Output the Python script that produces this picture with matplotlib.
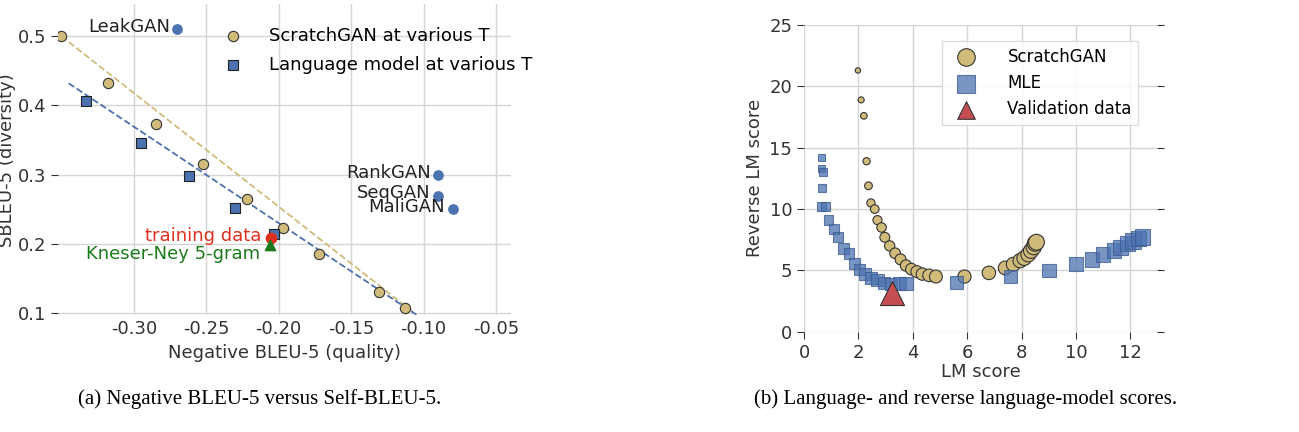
import numpy as np
import matplotlib
matplotlib.use("Agg")
import matplotlib.pyplot as plt

sg_x = [-0.35, -0.318, -0.285, -0.252, -0.222, -0.197, -0.172, -0.131, -0.113]
sg_y = [0.50, 0.432, 0.373, 0.315, 0.265, 0.223, 0.186, 0.130, 0.108]
lm_x = [-0.333, -0.295, -0.262, -0.230, -0.203]
lm_y = [0.407, 0.346, 0.298, 0.252, 0.214]
sg_fit_x = [-0.35, -0.105]
sg_fit_y = [0.50, 0.098]
lm_fit_x = [-0.345, -0.105]
lm_fit_y = [0.432, 0.098]
others = {"LeakGAN": (-0.27, 0.51), "RankGAN": (-0.09, 0.30),
          "SeqGAN": (-0.09, 0.27), "MaliGAN": (-0.08, 0.25)}
train_pt = (-0.205, 0.208)
kn_pt = (-0.206, 0.198)

s_x = [1.98, 2.1, 2.2, 2.3, 2.37, 2.46, 2.6, 2.7, 2.85, 2.97, 3.15, 3.35, 3.55, 3.75, 3.95,
       4.15, 4.35, 4.6, 4.85, 5.9, 6.8, 7.4, 7.7, 7.95, 8.1, 8.25, 8.35, 8.45, 8.5, 8.55]
s_y = [21.3, 18.9, 17.6, 13.9, 11.9, 10.5, 10.0, 9.1, 8.5, 7.7, 7.0, 6.4, 5.9, 5.4, 5.1,
       4.9, 4.7, 4.6, 4.5, 4.5, 4.8, 5.2, 5.5, 5.8, 6.0, 6.3, 6.6, 6.9, 7.2, 7.3]
m_x = [0.65, 0.65, 0.7, 0.65, 0.65, 0.8, 0.9, 1.1, 1.25, 1.45, 1.65, 1.85, 2.05, 2.25, 2.45, 2.7,
       2.95, 3.2, 3.5, 3.75, 5.6, 7.6, 9.0, 10.0, 10.6, 11.0, 11.4, 11.65, 11.9, 12.1, 12.3, 12.45]
m_y = [14.2, 13.3, 13.0, 11.7, 10.2, 10.2, 9.1, 8.4, 7.7, 6.8, 6.4, 5.6, 5.1, 4.7, 4.4, 4.2,
       4.0, 3.9, 3.9, 3.9, 4.0, 4.5, 5.0, 5.5, 5.9, 6.3, 6.6, 6.9, 7.2, 7.4, 7.6, 7.7]
val_pt = (3.25, 3.2)

gold = "#d1bb7a"
blue = "#4c72b0"
fig = plt.figure(figsize=(12.99, 4.32), dpi=100)

def style(ax):
    for s in ax.spines.values():
        s.set_visible(False)
    ax.grid(True, color="#d5d5d5", lw=1)
    ax.set_axisbelow(True)
    ax.tick_params(colors="#333333", labelsize=13, length=5, color="#333333")

ax = fig.add_axes([0.045, 0.27, 0.348, 0.72])
style(ax)
ax.tick_params(axis="x", length=0)
ax.plot(sg_fit_x, sg_fit_y, "--", color=gold, lw=1.3)
ax.plot(lm_fit_x, lm_fit_y, "--", color=blue, lw=1.3)
ax.scatter(sg_x, sg_y, s=55, color=gold, edgecolor="#333", lw=0.8, zorder=3,
           label="ScratchGAN at various T")
ax.scatter(lm_x, lm_y, s=55, marker="s", color=blue, edgecolor="#222", lw=0.8, zorder=3,
           label="Language model at various T")
for name, (x, y) in others.items():
    ax.scatter([x], [y], s=45, color="#4c72b0", zorder=3)
    ax.text(x - 0.005, y + 0.003, name, ha="right", va="center", fontsize=13, color="#222")
ax.scatter(*train_pt, s=55, color="#e0301e", zorder=4)
ax.text(train_pt[0] - 0.007, train_pt[1] + 0.004, "training data", ha="right", va="center",
        fontsize=13, color="#e0301e")
ax.scatter(*kn_pt, s=55, marker="^", color="#1a7a1a", zorder=4)
ax.text(kn_pt[0] - 0.007, kn_pt[1] - 0.012, "Kneser-Ney 5-gram", ha="right", va="center",
        fontsize=13, color="#1a7a1a")
ax.set_xlim(-0.352, -0.04)
ax.set_ylim(0.097, 0.546)
ax.set_xticks([-0.30, -0.25, -0.20, -0.15, -0.10, -0.05])
ax.set_xticklabels(["-0.30", "-0.25", "-0.20", "-0.15", "-0.10", "-0.05"])
ax.set_yticks([0.1, 0.2, 0.3, 0.4, 0.5])
ax.set_xlabel("Negative BLEU-5 (quality)", fontsize=13, color="#333")
ax.set_ylabel("SBLEU-5 (diversity)", fontsize=13, color="#333")
ax.yaxis.set_label_coords(-0.095, 0.5)
ax.legend(loc="upper left", bbox_to_anchor=(0.33, 0.95), frameon=False, fontsize=13,
          handletextpad=1.0, labelspacing=0.6, borderaxespad=0.0)

ax2 = fig.add_axes([0.619, 0.232, 0.272, 0.71])
style(ax2)
ax2.tick_params(right=True, direction="out")
n = len(s_x)
ax2.scatter(s_x, s_y, s=np.linspace(15, 130, n), color=gold, edgecolor="#333", lw=0.8,
            zorder=3, label="ScratchGAN")
nm = len(m_x)
ax2.scatter(m_x, m_y, s=np.linspace(25, 130, nm), marker="s", color=blue, alpha=0.75,
            edgecolor="#3a5a90", lw=0.8, zorder=3, label="MLE")
ax2.scatter(*val_pt, s=300, marker="^", color="#c44e52", edgecolor="#333", lw=0.8,
            zorder=4, label="Validation data")
ax2.set_xlim(0, 13)
ax2.set_ylim(0, 25)
ax2.set_xticks([0, 2, 4, 6, 8, 10, 12])
ax2.set_yticks([0, 5, 10, 15, 20, 25])
ax2.set_xlabel("LM score", fontsize=13, color="#333", labelpad=1)
ax2.set_ylabel("Reverse LM score", fontsize=13, color="#333")
leg = ax2.legend(loc="upper right", bbox_to_anchor=(0.97, 0.975), frameon=True, fontsize=12,
                 fancybox=False, edgecolor="#d5d5d5", handletextpad=1.5, labelspacing=0.5)
for h in leg.legend_handles:
    h.set_sizes([160])

fig.text(0.2, 0.065, "(a) Negative BLEU-5 versus Self-BLEU-5.", ha="center",
         fontsize=15, family="Liberation Serif")
fig.text(0.743, 0.065, "(b) Language- and reverse language-model scores.", ha="center",
         fontsize=15, family="Liberation Serif")
fig.savefig("out.png", dpi=100)
